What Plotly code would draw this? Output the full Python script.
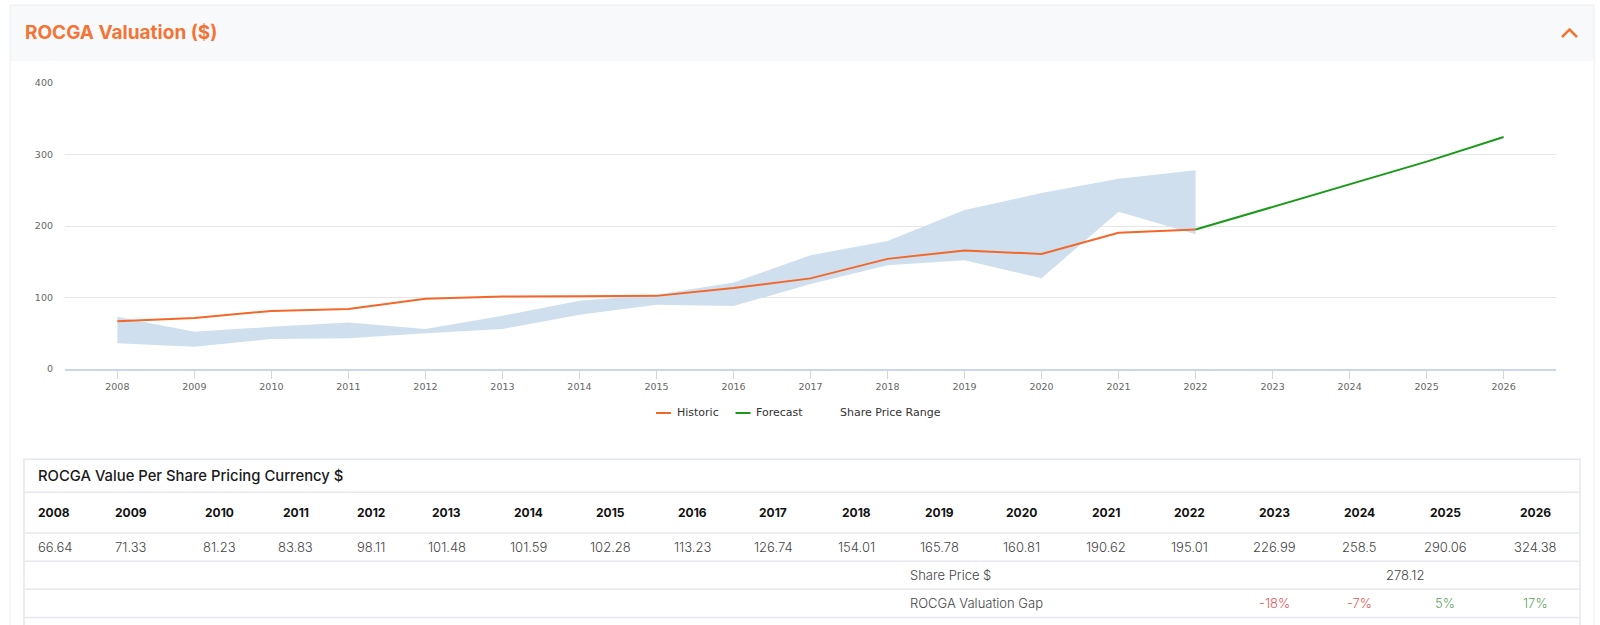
import plotly.graph_objects as go

# ---------------- data ----------------
years_hist = [2008, 2009, 2010, 2011, 2012, 2013, 2014, 2015, 2016, 2017, 2018, 2019, 2020, 2021, 2022]
historic = [66.64, 71.33, 81.23, 83.83, 98.11, 101.48, 101.59, 102.28, 113.23, 126.74, 154.01, 165.78, 160.81, 190.62, 195.01]
years_fc = [2022, 2023, 2024, 2025, 2026]
forecast = [195.01, 226.99, 258.5, 290.06, 324.38]
range_high = [73, 52, 59, 65, 56, 74.5, 95.5, 104, 121, 159, 179, 222.5, 246, 266, 278.12]
range_low = [36, 31, 42, 43, 50, 56, 76, 90, 88, 119, 145, 152, 127, 220, 188.5]
share_price = 278.12
gap_years = [2023, 2024, 2025, 2026]
gap_pct = [-18, -7, 5, 17]
y_ticks = [0, 100, 200, 300, 400]

table_years = years_hist + years_fc[1:]
table_vals = historic + forecast[1:]

# ---------------- layout helpers ----------------
W, H = 1600, 625
L, R, T, B = 65, 44, 83, 256
PW, PH = W - L - R, H - T - B


def X(px):
    return (px - L) / PW


def Y(py):
    return (H - B - py) / PH


ORANGE = "#f2672a"
GREEN = "#1a9a1a"
BAND = "rgb(207,223,238)"
TITLE_OR = "#f37435"
BORDER = "#e6e8ee"
FONT_UI = "Inter, Open Sans, sans-serif"
FONT_HC = "DejaVu Sans, Verdana, sans-serif"

fig = go.Figure()

# band (share price range)
fig.add_trace(go.Scatter(x=years_hist, y=range_low, mode="lines", line=dict(width=0),
                         showlegend=False, hoverinfo="skip"))
fig.add_trace(go.Scatter(x=years_hist, y=range_high, mode="lines", line=dict(width=0),
                         fill="tonexty", fillcolor=BAND, name="Share Price Range",
                         showlegend=False))
fig.add_trace(go.Scatter(x=years_hist, y=historic, mode="lines", name="Historic",
                         line=dict(color=ORANGE, width=2), showlegend=False))
fig.add_trace(go.Scatter(x=years_fc, y=forecast, mode="lines", name="Forecast",
                         line=dict(color=GREEN, width=2), showlegend=False))

shapes = []
annotations = []

# card + header
shapes.append(dict(type="rect", xref="paper", yref="paper", x0=X(10), x1=X(1594), y0=Y(5), y1=Y(61),
                   fillcolor="#f8f9fb", line=dict(width=0), layer="below"))
shapes.append(dict(type="rect", xref="paper", yref="paper", x0=X(10), x1=X(1594), y0=Y(5), y1=Y(700),
                   fillcolor="rgba(0,0,0,0)", line=dict(color="#eceef2", width=1)))
annotations.append(dict(xref="paper", yref="paper", x=X(23), y=Y(32.5), xanchor="left", yanchor="middle",
                        text="ROCGA Valuation ($)", showarrow=False,
                        font=dict(family=FONT_UI, size=19, color=TITLE_OR, weight=700)))
# chevron
shapes.append(dict(type="path", xref="paper", yref="paper",
                   path=f"M {X(1562)},{Y(37)} L {X(1569.5)},{Y(29.5)} L {X(1577)},{Y(37)}",
                   line=dict(color=TITLE_OR, width=2.5)))

# legend (manual)
shapes.append(dict(type="line", xref="paper", yref="paper", x0=X(656), x1=X(671), y0=Y(413), y1=Y(413),
                   line=dict(color=ORANGE, width=2)))
shapes.append(dict(type="line", xref="paper", yref="paper", x0=X(735.5), x1=X(750.5), y0=Y(413), y1=Y(413),
                   line=dict(color=GREEN, width=2)))
for txt, x0 in [("Historic", 675), ("Forecast", 754.3), ("Share Price Range", 837.7)]:
    annotations.append(dict(xref="paper", yref="paper", x=X(x0), y=Y(413), xanchor="left", yanchor="middle",
                            text=txt, showarrow=False, font=dict(family=FONT_HC, size=11, color="#333333")))

# ---------------- table ----------------
tbl_l, tbl_r, tbl_t = 24, 1580, 459.3
shapes.append(dict(type="rect", xref="paper", yref="paper", x0=X(tbl_l), x1=X(tbl_r), y0=Y(tbl_t), y1=Y(660),
                   fillcolor="rgba(0,0,0,0)", line=dict(color=BORDER, width=1.5)))
for yy in [492.3, 533, 561.3, 589.3, 617.5]:
    shapes.append(dict(type="line", xref="paper", yref="paper", x0=X(tbl_l), x1=X(tbl_r), y0=Y(yy), y1=Y(yy),
                       line=dict(color=BORDER, width=1.5)))

annotations.append(dict(xref="paper", yref="paper", x=X(35.7), y=Y(476), xanchor="left", yanchor="middle",
                        text="ROCGA Value Per Share Pricing Currency $", showarrow=False,
                        font=dict(family=FONT_UI, size=14.8, color="#1a1a1a", weight=500)))

col_x = [50, 131, 219, 295.7, 371, 446.7, 528, 610.3, 692, 773.3, 856, 939.3, 1021.7,
         1105.7, 1189, 1274, 1359.3, 1445, 1535]
col_pos = dict(zip(table_years, col_x))
for i, (yr, val) in enumerate(zip(table_years, table_vals)):
    if i == 0:
        xa, xpos = "left", 35.7
    else:
        xa, xpos = "center", col_pos[yr]
    annotations.append(dict(xref="paper", yref="paper", x=X(xpos), y=Y(512), xanchor=xa, yanchor="middle",
                            text=str(yr), showarrow=False,
                            font=dict(family=FONT_UI, size=12, color="#111111", weight=700)))
    annotations.append(dict(xref="paper", yref="paper", x=X(xpos), y=Y(546.5), xanchor=xa, yanchor="middle",
                            text=f"{val:g}", showarrow=False,
                            font=dict(family=FONT_UI, size=13, color="#444444", weight=300)))

annotations.append(dict(xref="paper", yref="paper", x=X(907.7), y=Y(574.5), xanchor="left", yanchor="middle",
                        text="Share Price $", showarrow=False,
                        font=dict(family=FONT_UI, size=13, color="#444444", weight=300)))
annotations.append(dict(xref="paper", yref="paper", x=X((col_pos[2023] + col_pos[2026]) / 2 + 0.5), y=Y(574.5),
                        xanchor="center", yanchor="middle", text=f"{share_price:g}", showarrow=False,
                        font=dict(family=FONT_UI, size=13, color="#444444", weight=300)))
annotations.append(dict(xref="paper", yref="paper", x=X(907.7), y=Y(602.7), xanchor="left", yanchor="middle",
                        text="ROCGA Valuation Gap", showarrow=False,
                        font=dict(family=FONT_UI, size=13, color="#444444", weight=300)))
for yr, g in zip(gap_years, gap_pct):
    annotations.append(dict(xref="paper", yref="paper", x=X(col_pos[yr]), y=Y(602.7), xanchor="center",
                            yanchor="middle", text=f"{g}%", showarrow=False,
                            font=dict(family=FONT_UI, size=13, color="#e8575a" if g < 0 else "#5fa35f",
                                      weight=300)))

fig.update_layout(
    width=W, height=H,
    margin=dict(l=L, r=R, t=T, b=B, autoexpand=False),
    paper_bgcolor="white", plot_bgcolor="white",
    showlegend=False,
    shapes=shapes, annotations=annotations,
    xaxis=dict(range=[2007.32, 2026.68], tickvals=table_years, ticktext=[str(y) for y in table_years],
               showgrid=False, zeroline=False, showline=True, linecolor="#ccd6eb", linewidth=1.5,
               ticks="outside", ticklen=8, tickcolor="#ccd6eb", tickwidth=1,
               tickfont=dict(family=FONT_HC, size=9.5, color="#666666")),
    yaxis=dict(range=[0, 400], tickvals=y_ticks, showgrid=True, gridcolor="#e6e6e6", gridwidth=1,
               zeroline=False, showline=False, ticks="", ticklabelstandoff=11,
               tickfont=dict(family=FONT_HC, size=9.5, color="#666666")),
)

fig.write_html("out.html", config={"displayModeBar": False},
               post_script="document.body.style.margin='0';")
